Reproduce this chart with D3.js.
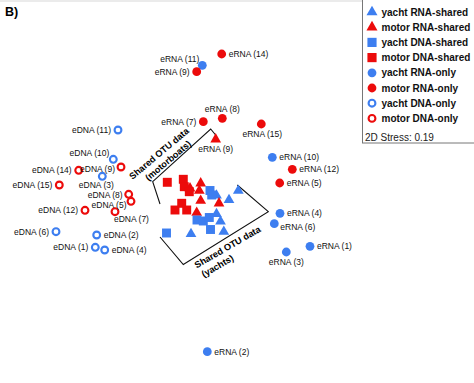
<!DOCTYPE html>
<html><head><meta charset="utf-8">
<script src="https://cdn.jsdelivr.net/npm/d3@7/dist/d3.min.js"></script>
<style>
html,body{margin:0;padding:0;background:#fff;}
svg{display:block;font-family:"Liberation Sans",Arial,Helvetica,sans-serif;}
</style></head>
<body>
<svg id="chart" width="474" height="383"></svg>
<script>
// ---- Data (NMDS coordinates) ----
const seriesNames = ["yacht RNA-shared","motor RNA-shared","yacht DNA-shared","motor DNA-shared",
                     "yacht RNA-only","motor RNA-only","yacht DNA-only","motor DNA-only"];
const yachtRnaShared = [[null,0.165,0.045],[null,0.29,0.0],[null,0.383,0.093],[null,0.165,-0.14],
                        [null,0.205,-0.215],[null,0.238,-0.317],[null,-0.09,-0.34]];
const motorRnaShared = [[null,-0.10,0.117],[null,0.007,0.167],[null,-0.007,0.093],[null,0.007,-0.007],
                        [null,0.19,-0.033],[null,-0.033,-0.127],["eRNA (9)",0.157,0.607]];
const yachtDnaShared = [[null,0.10,0.095],[null,0.117,0.05],[null,-0.03,-0.20],[null,0.033,-0.21],
                        [null,0.093,-0.175],[null,0.105,-0.295],[null,-0.335,-0.33]];
const motorDnaShared = [[null,-0.327,0.177],[null,-0.167,0.207],[null,-0.157,0.133],[null,-0.107,0.083],
                        [null,-0.183,-0.033],[null,-0.25,-0.10],[null,-0.133,-0.10]];
const yachtRnaOnly = [["eRNA (11)",0.023,1.347],["eRNA (10)",0.723,0.427],["eRNA (4)",0.80,-0.133],
                      ["eRNA (6)",0.743,-0.237],["eRNA (1)",1.10,-0.463],["eRNA (3)",0.863,-0.52],
                      ["eRNA (2)",0.073,-1.517]];
const motorRnaOnly = [["eRNA (14)",0.217,1.46],["eRNA (9)",-0.033,1.283],["eRNA (8)",0.223,0.817],
                      ["eRNA (7)",0.033,0.783],["eRNA (15)",0.613,0.76],["eRNA (12)",0.923,0.307],
                      ["eRNA (5)",0.797,0.17]];
const yachtDnaOnly = [["eDNA (11)",-0.82,0.70],["eDNA (10)",-0.867,0.407],["eDNA (3)",-0.977,0.237],
                      ["eDNA (6)",-1.44,-0.317],["eDNA (2)",-1.033,-0.35],["eDNA (1)",-1.047,-0.473],
                      ["eDNA (4)",-0.953,-0.50]];
const motorDnaOnly = [["eDNA (14)",-1.213,0.297],["eDNA (9)",-0.79,0.33],["eDNA (15)",-1.407,0.15],
                      ["eDNA (8)",-0.713,0.057],["eDNA (5)",-0.69,-0.013],["eDNA (12)",-1.15,-0.103],
                      ["eDNA (7)",-0.85,-0.117]];
const stressText = "2D Stress: 0.19";
// bracket annotations (NMDS coordinates)
const motorBracket = [[-0.40,-0.04],[-0.473,0.183],[0.107,0.71],[0.16,0.645]];
const yachtBracket = [[-0.40,-0.37],[-0.167,-0.645],[0.683,-0.117],[0.373,0.15]];
const motorBracketText = [["Shared OTU data",-0.41,0.465],["(motorboats)",-0.32,0.395]];
const yachtBracketText = [["Shared OTU data",0.275,-0.47],["(yachts)",0.175,-0.66]];

// ---- Styles ----
const BLUE = "#3d7ef0", RED = "#ec0b0b";
const seriesData = [yachtRnaShared,motorRnaShared,yachtDnaShared,motorDnaShared,
                    yachtRnaOnly,motorRnaOnly,yachtDnaOnly,motorDnaOnly];
const seriesStyle = [
  {shape:"tri",color:BLUE},{shape:"tri",color:RED},
  {shape:"sq",color:BLUE},{shape:"sq",color:RED},
  {shape:"dot",color:BLUE},{shape:"dot",color:RED},
  {shape:"ring",color:BLUE},{shape:"ring",color:RED}];
// label placement: [dx, dy, anchor]
const R=[7,0,"start"], L=[-7,0,"end"];
const labelPlace = {
  "eRNA (11)":[-3,-6.6,"end"], "eRNA (10)":R, "eRNA (4)":R, "eRNA (6)":[6,3,"start"],
  "eRNA (1)":R, "eRNA (3)":[0,10,"middle"], "eRNA (2)":R,
  "eRNA (14)":R, "eRNA (9)":L, "eRNA (8)":[0,-9,"middle"], "eRNA (7)":L,
  "eRNA (15)":[1,10,"middle"], "eRNA (12)":R, "eRNA (5)":R,
  "eDNA (11)":L, "eDNA (10)":[-4,-6.6,"end"], "eDNA (3)":[-6,9,"middle"], "eDNA (6)":L,
  "eDNA (2)":R, "eDNA (1)":L, "eDNA (4)":R,
  "eDNA (14)":L, "eDNA (9)":[-6,2,"end"], "eDNA (15)":L, "eDNA (8)":[-6,1,"end"],
  "eDNA (5)":[-4.5,3.6,"end"], "eDNA (12)":L, "eDNA (7)":[-1,7.5,"start"]
};
const tri9 = [0,10,"middle"];

const svg = d3.select("#chart");
const x = d3.scaleLinear().domain([-2, 2.74]).range([0, 474]);
const y = d3.scaleLinear().domain([2, -1.83]).range([0, 383]);

svg.append("rect").attr("x",0).attr("y",0).attr("width",474).attr("height",2).attr("fill","#ebebeb");
svg.append("text").attr("x",5).attr("y",16).attr("font-size",12.5).attr("font-weight","bold").text("B)");

function drawMarker(g, st, cx, cy, scale){
  scale = scale || 1;
  if(st.shape==="tri"){
    g.append("path").attr("d", d3.symbol(d3.symbolTriangle, 50*scale)())
      .attr("transform",`translate(${cx},${cy})`).attr("fill",st.color);
  } else if(st.shape==="sq"){
    g.append("path").attr("d", d3.symbol(d3.symbolSquare, 80*scale)())
      .attr("transform",`translate(${cx},${cy})`).attr("fill",st.color);
  } else if(st.shape==="dot"){
    g.append("circle").attr("cx",cx).attr("cy",cy).attr("r",4.4*Math.sqrt(scale)).attr("fill",st.color);
  } else {
    g.append("circle").attr("cx",cx).attr("cy",cy).attr("r",3.4*Math.sqrt(scale))
      .attr("fill","#fff").attr("stroke",st.color).attr("stroke-width",2.1);
  }
}

// brackets
const line = d3.line().x(d=>x(d[0])).y(d=>y(d[1]));
[motorBracket,yachtBracket].forEach(b=>{
  svg.append("path").attr("d",line(b)).attr("fill","none").attr("stroke","#111").attr("stroke-width",1.1);
});
motorBracketText.forEach(t=>{
  svg.append("text").attr("transform",`translate(${x(t[1])},${y(t[2])}) rotate(-40)`)
    .attr("text-anchor","middle").attr("dy","0.35em").attr("font-size",9.2).attr("font-weight","bold").text(t[0]);
});
yachtBracketText.forEach(t=>{
  svg.append("text").attr("transform",`translate(${x(t[1])},${y(t[2])}) rotate(-30)`)
    .attr("text-anchor","middle").attr("dy","0.35em").attr("font-size",9.2).attr("font-weight","bold").text(t[0]);
});

// points
const gp = svg.append("g");
seriesData.forEach((arr,i)=>{
  arr.forEach(d=>{
    drawMarker(gp, seriesStyle[i], x(d[1]), y(d[2]));
  });
});
// labels
const gl = svg.append("g");
seriesData.forEach((arr,i)=>{
  arr.forEach(d=>{
    if(!d[0]) return;
    const p = (i===1) ? tri9 : labelPlace[d[0]];
    gl.append("text").attr("x",x(d[1])+p[0]).attr("y",y(d[2])+p[1]).attr("dy","0.35em")
      .attr("text-anchor",p[2]).attr("font-size",8.5).attr("fill","#111").text(d[0]);
  });
});

// legend
const lg = svg.append("g");
lg.append("rect").attr("x",362.5).attr("y",-2).attr("width",120).attr("height",145)
  .attr("fill","#fff").attr("stroke","#777").attr("stroke-width",1);
seriesNames.forEach((n,i)=>{
  const cy = 12 + i*15.2;
  drawMarker(lg, seriesStyle[i], 372, cy, i<4 ? 1.05 : 1);
  lg.append("text").attr("x",381.5).attr("y",cy).attr("dy","0.35em").attr("font-size",10)
    .attr("font-weight","bold").attr("fill","#111").text(n);
});
lg.append("text").attr("x",365).attr("y",137).attr("dy","0.35em").attr("font-size",10)
  .attr("fill","#222").text(stressText);
</script>
</body></html>
